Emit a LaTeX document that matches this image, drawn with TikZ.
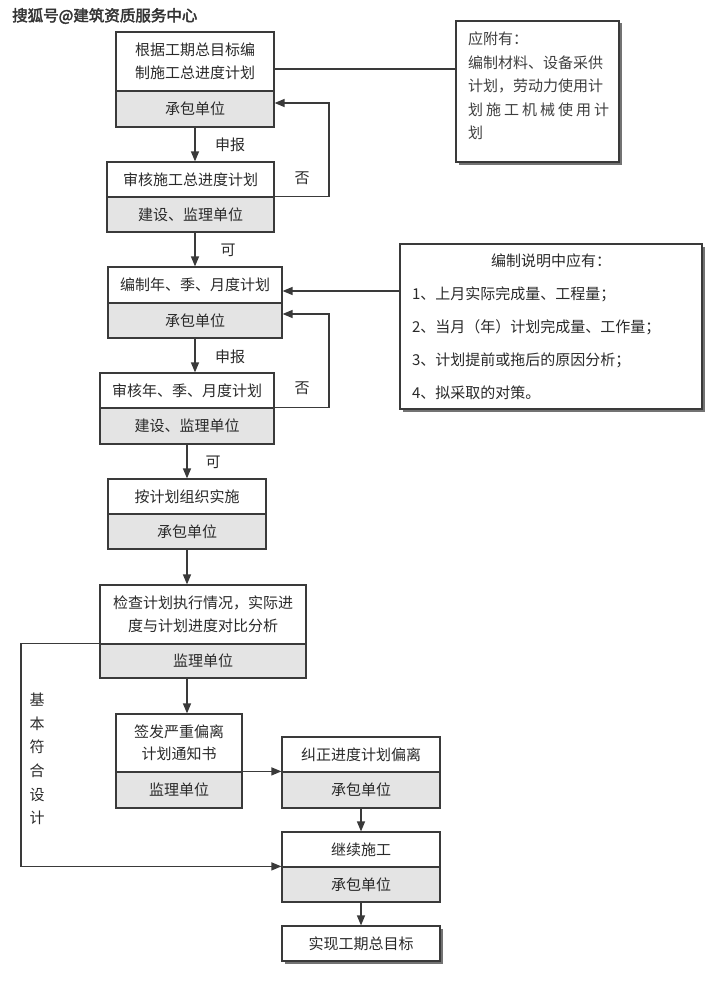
\documentclass[tikz,border=0pt]{standalone}
\usepackage{fontspec}
\setmainfont{Noto Sans CJK SC}
\newfontfamily\wmfont[FakeBold=2.5]{Noto Sans CJK SC}
\usetikzlibrary{arrows.meta,shadows}
\definecolor{lnc}{HTML}{3A3A3A}
\definecolor{lowfill}{HTML}{E4E4E4}
\definecolor{txt}{HTML}{2A2A2A}
\begin{document}
\begin{tikzpicture}[x=1pt,y=-1pt,
  every node/.style={font=\fontsize{15}{23}\selectfont, text=txt},
  upper/.style={draw=lnc, line width=1.2pt, fill=white, inner sep=0pt, align=center},
  lower/.style={draw=lnc, line width=1.2pt, fill=lowfill, inner sep=0pt},
  shad/.style={drop shadow={shadow xshift=2.5pt, shadow yshift=-2.5pt, fill=black!55, opacity=1}},
  arr/.style={draw=lnc, line width=1.3pt, -{Triangle[length=10pt,width=8pt]}},
  plain/.style={draw=lnc, line width=1.3pt},
  lab/.style={inner sep=0pt}
]
\path[use as bounding box] (0,0) rectangle (720,982);
\fill[white] (0,0) rectangle (720,982);

% watermark
\node[anchor=west, inner sep=0pt, font=\fontsize{15.5}{18}\selectfont\wmfont, text=black!80] (wm) at (12,16) {搜狐号@建筑资质服务中心};

% box 1
\node[upper, minimum width=158pt, minimum height=59pt] (b1t) at (195,61.5) {根据工期总目标编\\制施工总进度计划};
\node[lower, minimum width=158pt, minimum height=36pt] (b1b) at (195,109) {承包单位};
% box 2
\node[upper, minimum width=167pt, minimum height=35pt] (b2t) at (190.5,179.5) {审核施工总进度计划};
\node[lower, minimum width=167pt, minimum height=35pt] (b2b) at (190.5,214.5) {建设、监理单位};
% box 3
\node[upper, minimum width=174pt, minimum height=36pt] (b3t) at (195,285) {编制年、季、月度计划};
\node[lower, minimum width=174pt, minimum height=35pt] (b3b) at (195,320.5) {承包单位};
% box 4
\node[upper, minimum width=174pt, minimum height=35pt] (b4t) at (187,390.5) {审核年、季、月度计划};
\node[lower, minimum width=174pt, minimum height=36pt] (b4b) at (187,426) {建设、监理单位};
% box 5
\node[upper, minimum width=158pt, minimum height=35pt] (b5t) at (187,496.5) {按计划组织实施};
\node[lower, minimum width=158pt, minimum height=35pt] (b5b) at (187,531.5) {承包单位};
% box 6
\node[upper, minimum width=206pt, minimum height=59pt] (b6t) at (203,614.5) {检查计划执行情况，实际进\\度与计划进度对比分析};
\node[lower, minimum width=206pt, minimum height=34pt] (b6b) at (203,661) {监理单位};
% box 7
\node[upper, minimum width=126pt, minimum height=58pt, font=\fontsize{15}{22}\selectfont] (b7t) at (179,743) {签发严重偏离\\计划通知书};
\node[lower, minimum width=126pt, minimum height=36pt] (b7b) at (179,790) {监理单位};
% box 8
\node[upper, minimum width=158pt, minimum height=35pt] (b8t) at (361,754.5) {纠正进度计划偏离};
\node[lower, minimum width=158pt, minimum height=36pt] (b8b) at (361,790) {承包单位};
% box 9
\node[upper, minimum width=158pt, minimum height=35pt] (b9t) at (361,849.5) {继续施工};
\node[lower, minimum width=158pt, minimum height=35pt] (b9b) at (361,884.5) {承包单位};
% box 10
\node[upper, shad, minimum width=158pt, minimum height=35pt] (b10) at (361,943.5) {实现工期总目标};

% note 1
\node[upper, shad, minimum width=163pt, minimum height=141pt] (n1) at (537.5,91.5) {};
\node[anchor=north west, inner sep=0pt, align=left, text width=141pt, font=\fontsize{15}{23.5}\selectfont, text=txt!90] (n1x) at (468,32)
 {应附有：\\编制材料、设备采供\\计划，劳动力使用计\\\makebox[141pt][s]{划\hfill 施\hfill 工\hfill 机\hfill 械\hfill 使\hfill 用\hfill 计}\\划};
% note 2
\node[upper, shad, minimum width=302pt, minimum height=165pt, align=left, text width=278pt, inner xsep=12pt, font=\fontsize{15}{33}\selectfont] (n2) at (551,326.5)
 {\makebox[278pt][c]{编制说明中应有：}\\1、上月实际完成量、工程量；\\2、当月（年）计划完成量、工作量；\\3、计划提前或拖后的原因分析；\\4、拟采取的对策。};

% helper coordinates
\coordinate (c1) at (0,69);
\coordinate (c2) at (0,291);
\coordinate (r1) at (329,103);
\coordinate (r2) at (329,314);
\coordinate (lx) at (21,0);

% connectors
\draw[plain] (b1t.east |- c1) -- (n1.west |- c1);
\draw[arr] (b1b.south) -- (b1b.south |- b2t.north);
\draw[arr] (b2b.north east) -| (r1) -- (r1 -| b1b.east);
\draw[arr] (b2b.south -| b3t.north) -- (b3t.north);
\draw[arr] (n2.west |- c2) -- (b3t.east |- c2);
\draw[arr] (b3b.south) -- (b3b.south |- b4t.north);
\draw[arr] (b4b.north east) -| (r2) -- (r2 -| b3b.east);
\draw[arr] (b4b.south) -- (b5t.north);
\draw[arr] (b5b.south) -- (b5b.south |- b6t.north);
\draw[arr] (b6b.south -| b5b.south) -- (b5b.south |- b7t.north);
\draw[arr] (b7b.north east) -- (b8b.north west);
\draw[arr] (b8b.south) -- (b9t.north);
\draw[arr] (b9b.south) -- (b10.north);
\draw[arr] (b6b.north west) -- (b6b.north west -| lx) |- (b9b.north west);

% labels
\node[lab] (l1) at (230,145) {申报};
\node[lab] (l2) at (302,178) {否};
\node[lab] (l3) at (228,250) {可};
\node[lab] (l4) at (230,357) {申报};
\node[lab] (l5) at (302,388) {否};
\node[lab] (l6) at (213,462) {可};
\node[lab, align=center, font=\fontsize{15}{23.6}\selectfont] (l7) at (37,759) {基\\本\\符\\合\\设\\计};
\end{tikzpicture}
\end{document}
